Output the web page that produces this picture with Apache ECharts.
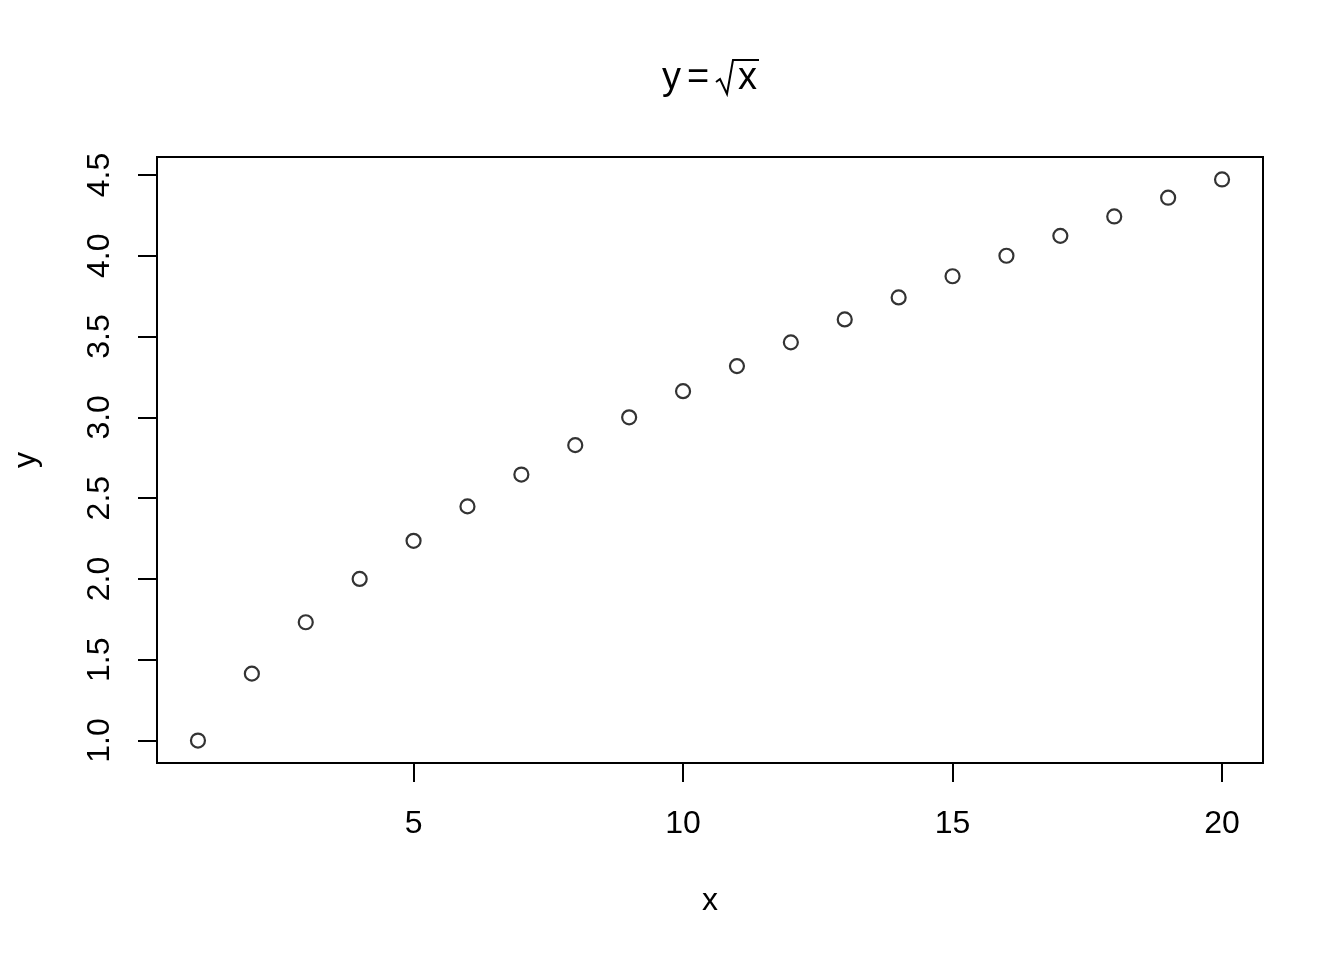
<!DOCTYPE html>
<html><head><meta charset="utf-8">
<script src="https://cdn.jsdelivr.net/npm/echarts@6/dist/echarts.min.js"></script>
<style>html,body{margin:0;padding:0;background:#fff}#c{width:1344px;height:960px}</style>
</head><body><div id="c"></div>
<script>
const xValues = [1,2,3,4,5,6,7,8,9,10,11,12,13,14,15,16,17,18,19,20];
const yValues = [1.000,1.414,1.732,2.000,2.236,2.449,2.646,2.828,3.000,3.162,3.317,3.464,3.606,3.742,3.873,4.000,4.123,4.243,4.359,4.472];
const xTicks = [5,10,15,20];
const yTicks = [1.0,1.5,2.0,2.5,3.0,3.5,4.0,4.5];
const xRange = [0.24, 20.76];
const yRange = [0.861, 4.611];

const font = '"Liberation Sans", Arial, sans-serif';
const chart = echarts.init(document.getElementById('c'), null, {renderer:'canvas'});
chart.setOption({
  backgroundColor:'#fff',
  animation:false,
  grid:{left:157,right:81,top:157,bottom:197,containLabel:false,outerBoundsMode:'none',
    show:true,borderColor:'#000',borderWidth:2,backgroundColor:'transparent'},
  xAxis:{type:'value',min:xRange[0],max:xRange[1],
    name:'x',nameLocation:'middle',nameGap:122,nameTextStyle:{fontFamily:font,fontSize:32,color:'#000'},
    axisLine:{show:false},splitLine:{show:false},
    axisTick:{show:true,length:19,inside:false,customValues:xTicks,lineStyle:{color:'#000',width:2}},
    axisLabel:{customValues:xTicks,fontFamily:font,fontSize:32,color:'#000',margin:45}},
  yAxis:{type:'value',min:yRange[0],max:yRange[1],
    name:'y',nameLocation:'middle',nameGap:115,nameRotate:90,nameTextStyle:{fontFamily:font,fontSize:32,color:'#000'},
    axisLine:{show:false},splitLine:{show:false},
    axisTick:{show:true,length:19,inside:false,customValues:yTicks,lineStyle:{color:'#000',width:2}},
    axisLabel:{customValues:yTicks,rotate:90,fontFamily:font,fontSize:32,color:'#000',margin:41,
      formatter:v=>v.toFixed(1)}},
  series:[{type:'scatter',data:xValues.map((x,i)=>[x,yValues[i]]),symbol:'circle',symbolSize:14,
    itemStyle:{color:'transparent',borderColor:'#000',borderWidth:2.2}}],
  graphic:[
    {type:'text',style:{x:662,y:60,text:'y',font:'38px '+font,fill:'#000'}},
    {type:'text',style:{x:687,y:60,text:'=',font:'38px '+font,fill:'#000'}},
    {type:'polyline',shape:{points:[[716,82],[720,79],[727,94],[733,60],[759,60]]},
      style:{stroke:'#000',lineWidth:2,fill:null}},
    {type:'text',style:{x:738,y:60,text:'x',font:'38px '+font,fill:'#000'}}
  ]
});
</script></body></html>
